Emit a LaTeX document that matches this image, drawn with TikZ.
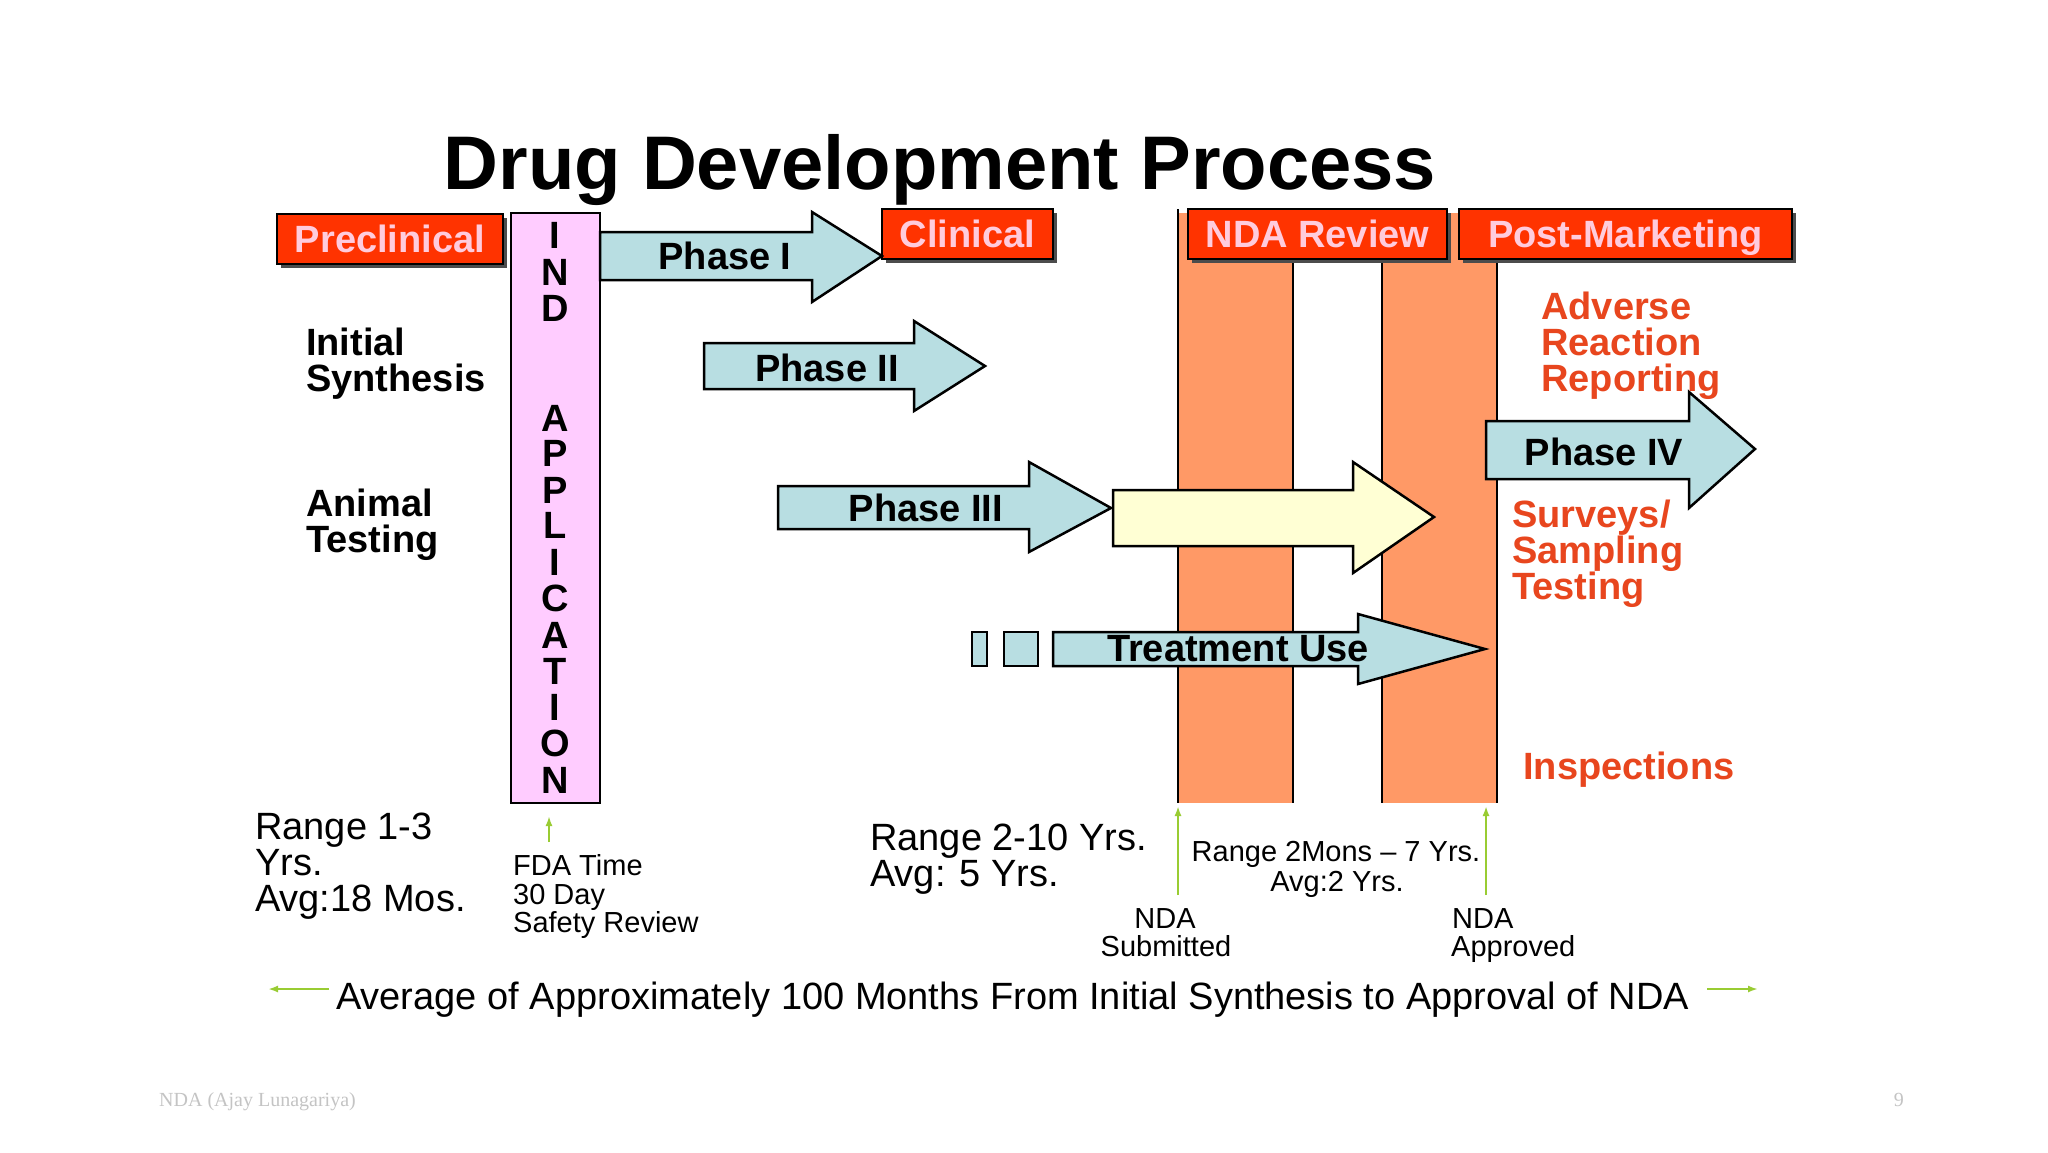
\documentclass[tikz,border=0pt]{standalone}
\usepackage{fontspec}
\setmainfont{Liberation Sans}
\newfontfamily\footfont{Liberation Serif}
\usetikzlibrary{arrows.meta}
\definecolor{boxred}{HTML}{FF3300}
\definecolor{boxtxt}{HTML}{FFCCDD}
\definecolor{indpink}{HTML}{FFCCFF}
\definecolor{ndaorange}{HTML}{FF9966}
\definecolor{arrblue}{HTML}{B8DEE2}
\definecolor{arryellow}{HTML}{FFFFD4}
\definecolor{redtxt}{HTML}{E8461E}
\definecolor{grn}{HTML}{99CC33}
\definecolor{footgray}{HTML}{C4C4C4}
\begin{document}
\begin{tikzpicture}[x=1pt,y=-1pt,
  redbox/.style={draw=black,line width=2pt,fill=boxred,text=boxtxt,inner sep=0pt,
    text height=27pt,text depth=0pt,
    minimum height=50pt,font=\fontsize{38}{40}\selectfont\bfseries},
  boxshadow/.style={fill=black!70},
  bandline/.style={draw=black,line width=2pt},
  arrowshape/.style={draw=black,line width=2.5pt,line join=miter,fill=arrblue},
  bigb/.style={font=\fontsize{38}{36}\selectfont\bfseries,inner sep=0pt},
  letter/.style={font=\fontsize{38}{38}\selectfont\bfseries,inner sep=0pt,anchor=center},
  regl/.style={font=\fontsize{38}{38}\selectfont,inner sep=0pt,anchor=base west},
  smalll/.style={font=\fontsize{29}{29}\selectfont,inner sep=0pt},
  grnarrow/.style={draw=grn,line width=2pt,-{Latex[length=10pt,width=7pt]}}
]
\useasboundingbox[fill=white] (0,0) rectangle (2048,1152);

% title
\node[font=\fontsize{76}{76}\selectfont\bfseries,inner sep=0pt,anchor=base] (title) at (940,189) {Drug Development Process};

% NDA review orange bands
\fill[ndaorange] (1178,213) rectangle (1293,803);
\fill[ndaorange] (1382,213) rectangle (1497,803);
\draw[bandline] (1178,209) -- (1178,803);
\draw[bandline] (1293,213) -- (1293,803);
\draw[bandline] (1382,213) -- (1382,803);
\draw[bandline] (1497,213) -- (1497,803);

% IND band
\node[draw=black,line width=2pt,fill=indpink,minimum width=89pt,minimum height=590pt,inner sep=0pt] (ind) at (555.5,508) {};
\foreach \l/\yy/\n in {I/235/i1,N/272/i2,D/308/i3,A/418/a1,P/453/a2,P/490/a3,L/525/a4,I/562/a5,C/598/a6,A/635/a7,T/671/a8,I/707/a9,O/743/a10,N/780/a11}
  \node[letter] (\n) at (555,\yy) {\l};

% red header boxes (with shadows)
\fill[boxshadow] (281,218) rectangle (507,268);
\node[redbox,minimum width=226pt] (precl) at (390,239) {Preclinical};
\fill[boxshadow] (886,213) rectangle (1057,263);
\node[redbox,minimum width=171pt] (clin) at (967.5,234) {Clinical};
\fill[boxshadow] (1192,213) rectangle (1451,263);
\node[redbox,minimum width=259pt] (ndarev) at (1317.5,234) {NDA Review};
\fill[boxshadow] (1463,213) rectangle (1796,263);
\node[redbox,minimum width=333pt] (postm) at (1625.5,234) {Post-Marketing};

% phase arrows
\draw[arrowshape] (600,232) -- (812,232) -- (812,212) -- (882,256) -- (812,302) -- (812,280) -- (600,280) -- cycle;
\node[bigb] (ph1) at (725,256) {Phase I};
\draw[arrowshape] (704,343) -- (914,343) -- (914,321) -- (985,366) -- (914,411) -- (914,389) -- (704,389) -- cycle;
\node[bigb] (ph2) at (827,368) {Phase II};
\draw[arrowshape] (778,486) -- (1029,486) -- (1029,462) -- (1111,508) -- (1029,552) -- (1029,529) -- (778,529) -- cycle;
\node[bigb] (ph3) at (926,508) {Phase III};
\draw[arrowshape,fill=arryellow] (1113,490) -- (1353,490) -- (1353,462) -- (1434,517) -- (1353,573) -- (1353,546) -- (1113,546) -- cycle;
\draw[arrowshape] (972,632) rectangle (987,666);
\draw[arrowshape] (1004,632) rectangle (1038,666);
\draw[arrowshape] (1053,632) -- (1358,632) -- (1358,614) -- (1485,649) -- (1358,684) -- (1358,666) -- (1053,666) -- cycle;
\node[bigb] (treat) at (1238,649) {Treatment Use};
\draw[arrowshape] (1486,421) -- (1689,421) -- (1689,392) -- (1755,449) -- (1689,508) -- (1689,479) -- (1486,479) -- cycle;
\node[bigb] (ph4) at (1604,452) {Phase IV};

% left texts
\node[bigb,anchor=base west] (init1) at (306,355) {Initial};
\node[bigb,anchor=base west] (init2) at (306,391) {Synthesis};
\node[bigb,anchor=base west] (anim1) at (306,516) {Animal};
\node[bigb,anchor=base west] (anim2) at (306,552) {Testing};

% red texts
\begin{scope}[every node/.style={bigb,anchor=base west,text=redtxt}]
\node (adv1) at (1541,319) {Adverse};
\node (adv2) at (1541,355) {Reaction};
\node (adv3) at (1541,391) {Reporting};
\node (sur1) at (1512,527) {Surveys/};
\node (sur2) at (1512,563) {Sampling};
\node (sur3) at (1512,599) {Testing};
\node (insp) at (1523,779) {Inspections};
\end{scope}

% bottom texts
\node[regl] (r1a) at (255,839) {Range 1-3};
\node[regl] (r1b) at (255,875) {Yrs.};
\node[regl] (r1c) at (255,911) {Avg:18 Mos.};
\node[smalll,anchor=base west] (fda1) at (513,875) {FDA Time};
\node[smalll,anchor=base west] (fda2) at (513,904) {30 Day};
\node[smalll,anchor=base west] (fda3) at (513,932) {Safety Review};
\node[regl] (r2a) at (870,850) {Range 2-10 Yrs.};
\node[regl] (r2b) at (870,886) {Avg: 5 Yrs.};
\node[smalll,anchor=base] (r3a) at (1336,861) {Range 2Mons – 7 Yrs.};
\node[smalll,anchor=base] (r3b) at (1337,891) {Avg:2 Yrs.};
\node[smalll,anchor=base] (sub1) at (1165,928) {NDA};
\node[smalll,anchor=base] (sub2) at (1166,956) {Submitted};
\node[smalll,anchor=base west] (app1) at (1452,928) {NDA};
\node[smalll,anchor=base west] (app2) at (1451,956) {Approved};
\node[regl] (avgline) at (336,1009) {Average of Approximately 100 Months From Initial Synthesis to Approval of NDA};

% green arrows
\coordinate (fdaS) at (549,842);
\coordinate (fdaE) at (549,816);
\coordinate (subS) at (1178,895);
\coordinate (subE) at (1178,806);
\coordinate (appS) at (1486,895);
\coordinate (appE) at (1486,806);
\coordinate (blS) at (329,989);
\coordinate (blE) at (268,989);
\coordinate (brS) at (1707,989);
\coordinate (brE) at (1758,989);
\draw[grnarrow] (fdaS) -- (fdaE);
\draw[grnarrow] (subS) -- (subE);
\draw[grnarrow] (appS) -- (appE);
\draw[grnarrow] (blS) -- (blE);
\draw[grnarrow] (brS) -- (brE);

% footer
\node[font=\footfont\fontsize{20}{20}\selectfont,text=footgray,inner sep=0pt,anchor=base west] (foot) at (159,1106) {NDA (Ajay Lunagariya)};
\node[font=\footfont\fontsize{20}{20}\selectfont,text=footgray,inner sep=0pt,anchor=base east] (pnum) at (1904,1106) {9};
\end{tikzpicture}
\end{document}
